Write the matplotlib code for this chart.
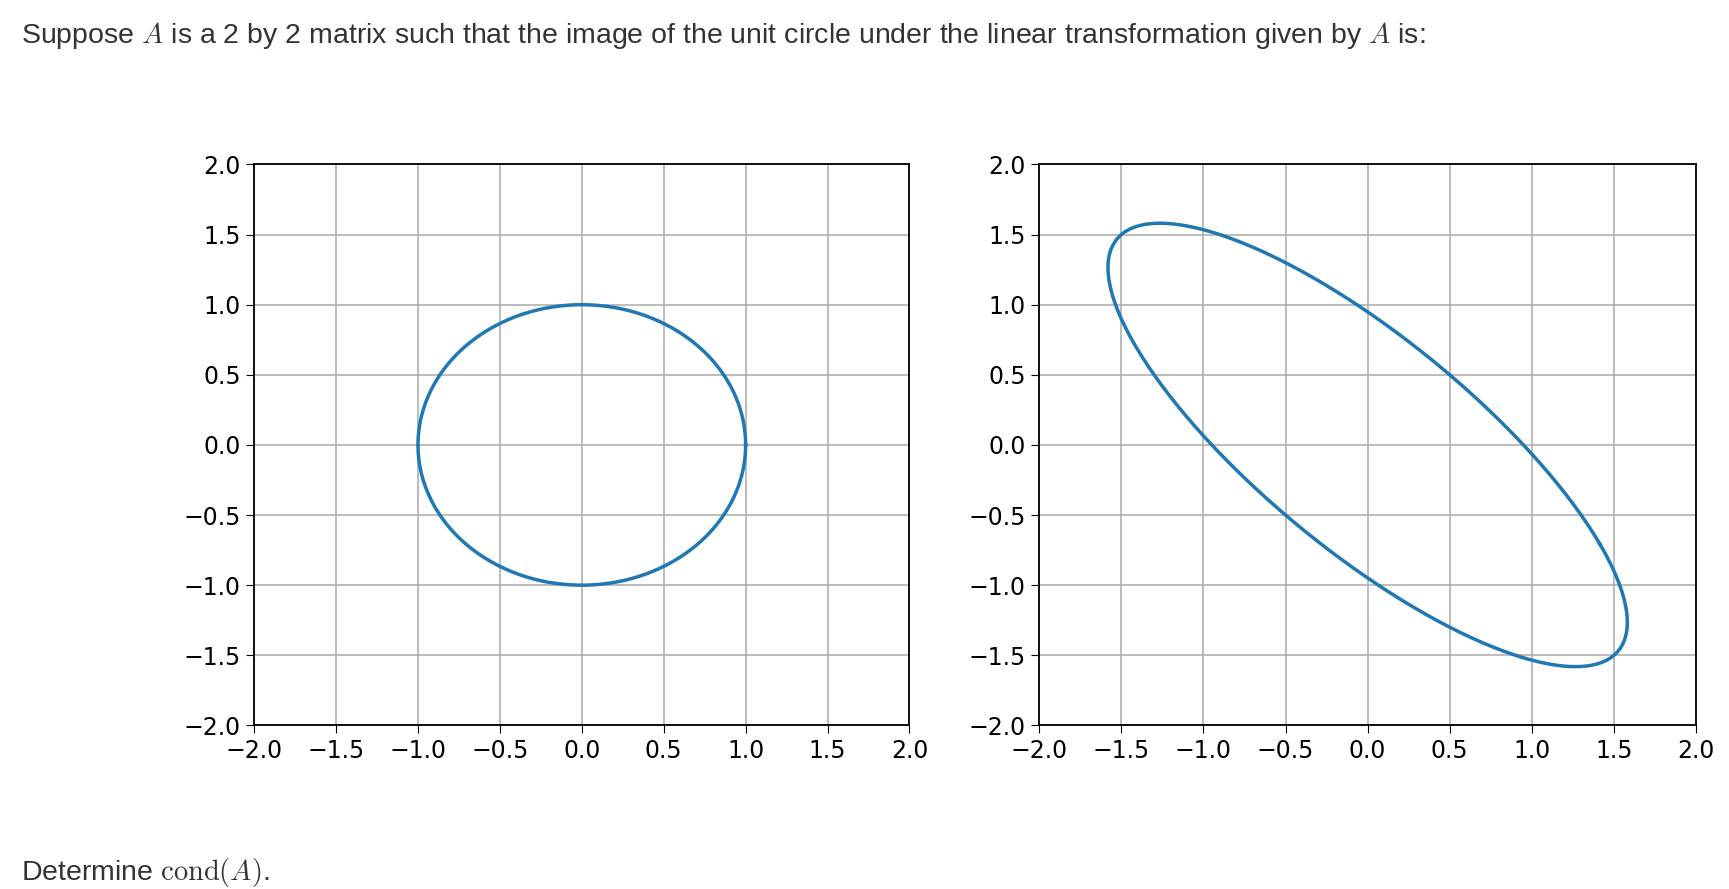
import numpy as np
import matplotlib.pyplot as plt

plt.rcParams["mathtext.fontset"] = "cm"

# matrix A estimated from the ellipse (major axis along (1,-1), semi-axes ~2.12 and ~0.71)
A = [[1.414, -0.707],
     [-0.707, 1.414]]
ticks = [-2.0, -1.5, -1.0, -0.5, 0.0, 0.5, 1.0, 1.5, 2.0]

t = np.linspace(0, 2 * np.pi, 400)
circle = np.vstack([np.cos(t), np.sin(t)])
image = np.array(A) @ circle

fig = plt.figure(figsize=(17.29, 8.89), dpi=100)
fig.text(0.012, 0.978, r"Suppose $A$ is a 2 by 2 matrix such that the image of the unit circle under the linear transformation given by $A$ is:",
         fontsize=20.5, family="Liberation Sans", color="#333333", va="top")
fig.text(0.012, 0.0, r"Determine $\mathrm{cond}(A)$.",
         fontsize=20.5, family="Liberation Sans", color="#333333", va="bottom")

boxes = [[0.147, 0.184, 0.379, 0.631], [0.601, 0.184, 0.380, 0.631]]
for box, pts in zip(boxes, [circle, image]):
    ax = fig.add_axes(box)
    ax.plot(pts[0], pts[1], color="#1f77b4", linewidth=2.5)
    ax.set_xlim(-2, 2)
    ax.set_ylim(-2, 2)
    ax.set_xticks(ticks)
    ax.set_yticks(ticks)
    ax.tick_params(labelsize=17, length=6)
    ax.grid(True, color="#b0b0b0", linewidth=1.2)
    for s in ax.spines.values():
        s.set_linewidth(1.3)

fig.savefig("out.png", dpi=100)
